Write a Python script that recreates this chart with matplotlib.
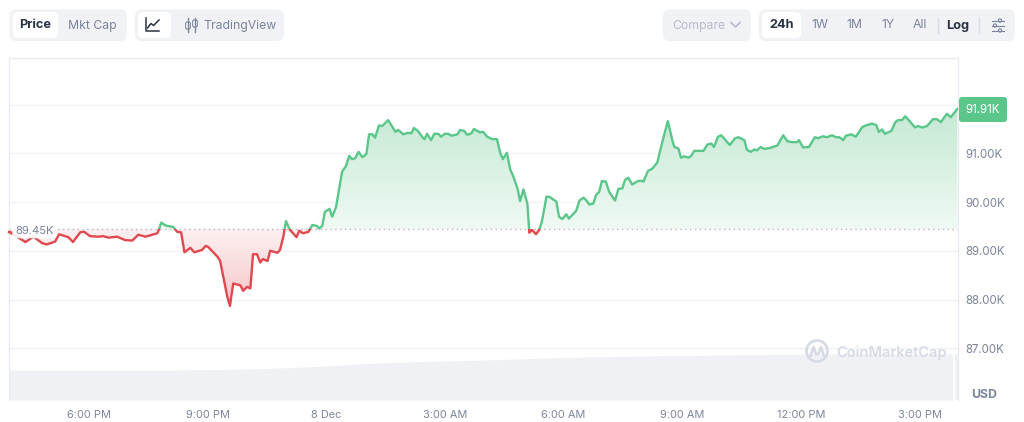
import numpy as np
import matplotlib
matplotlib.use("Agg")
import matplotlib.pyplot as plt
from matplotlib.patches import FancyBboxPatch, Rectangle, Polygon, Circle
from matplotlib.colors import LinearSegmentedColormap

plt.rcParams['font.family'] = ['Inter', 'DejaVu Sans']

# minutes relative to midnight, 8 Dec
minutes = [-481,-456,-444,-431,-424,-411,-405,-391,-384,-373,-367,-358,-346,-338,-330,-317,-305,-294,-285,-274,-256,-255,-250,-244,-232,-226,-220,-215,-206,-200,-188,-183,-179,-165,-161,-155,-150,-146,-141,-130,-126,-120,-115,-111,-105,-100,-96,-89,-85,-74,-70,-65,-61,-55,-45,-41,-35,-27,-21,-14,-11,-6,-2,
 5,9,15,24,30,35,39,44,49,55,61,65,70,74,80,85,94,105,109,117,124,129,133,139,146,149,153,159,164,170,174,180,185,190,199,203,209,214,220,224,233,238,244,252,259,264,268,274,279,283,290,294,299,305,308,312,318,323,327,334,338,349,353,358,364,368,379,384,390,394,399,405,409,414,418,424,429,438,443,449,453,458,464,471,476,481,488,494,502,509,518,525,528,534,538,543,549,553,558,572,578,584,588,594,599,612,620,625,634,638,644,649,653,659,664,673,684,693,699,706,714,717,723,732,741,746,753,759,767,773,778,784,788,796,803,813,820,828,834,838,843,847,857,863,867,873,878,893,897,904,911,920,926,932,941,947,957]
prices = [89.39,89.18,89.29,89.16,89.13,89.19,89.34,89.28,89.18,89.38,89.39,89.30,89.29,89.30,89.27,89.29,89.22,89.21,89.33,89.29,89.36,89.39,89.58,89.52,89.49,89.39,89.38,88.97,89.06,88.97,89.02,89.10,89.08,88.88,88.80,88.40,88.06,87.87,88.33,88.29,88.18,88.26,88.23,88.93,88.93,88.76,88.83,88.79,89.00,88.96,89.02,89.29,89.61,89.43,89.28,89.41,89.36,89.39,89.53,89.51,89.46,89.51,89.80,
 89.86,89.70,89.90,90.62,90.74,90.95,90.88,90.90,91.03,90.92,90.99,91.39,91.39,91.32,91.57,91.56,91.68,91.44,91.48,91.39,91.42,91.41,91.52,91.46,91.33,91.29,91.40,91.27,91.40,91.40,91.34,91.40,91.40,91.36,91.39,91.48,91.46,91.38,91.41,91.50,91.43,91.44,91.34,91.29,91.29,91.00,90.88,91.01,90.67,90.55,90.28,90.02,90.26,89.97,89.37,89.43,89.34,89.43,89.60,90.11,90.11,90.01,89.70,89.65,89.75,89.66,89.82,90.03,90.09,90.04,89.95,89.97,90.14,90.21,90.43,90.42,90.21,90.03,90.27,90.28,90.45,90.50,90.36,90.42,90.44,90.42,90.64,90.68,90.81,91.20,91.66,91.26,91.13,91.10,90.91,90.94,90.91,90.94,91.05,91.05,91.18,91.20,91.13,91.34,91.37,91.17,91.31,91.33,91.27,91.07,91.03,91.08,91.06,91.13,91.09,91.11,91.16,91.37,91.25,91.23,91.23,91.27,91.12,91.13,91.33,91.31,91.35,91.33,91.37,91.33,91.33,91.27,91.36,91.39,91.34,91.54,91.58,91.61,91.58,91.44,91.49,91.40,91.46,91.64,91.68,91.68,91.76,91.53,91.56,91.53,91.56,91.70,91.70,91.64,91.81,91.74,91.91]
baseline = 89.45
last_price = "91.91K"
base_label = "89.45K"

vol_minutes = [-481,-360,-240,-150,-100,-50,0,60,120,240,360,480,600,720,840,950]
vol_values = [60,60,60,61,63,65,68,73,76,80,85,88,90,92,92,92]
vol_last_minutes = [953,958]
vol_last_values = [92,92]

xticks = [-360,-180,0,180,360,540,720,900]
xticklabels = ["6:00 PM","9:00 PM","8 Dec","3:00 AM","6:00 AM","9:00 AM","12:00 PM","3:00 PM"]
yticks = [87,88,89,90,91,92]
yticklabels = ["87.00K","88.00K","89.00K","90.00K","91.00K",""]

GREEN = "#5bc68a"
RED = "#e0484f"
GRID = "#f1f2f5"
BORDER = "#e9ebf0"

W, H = 1024, 422
fig = plt.figure(figsize=(W/100, H/100), dpi=100, facecolor="white")
L, R, T, B = 9, 958, 58, 400
rect = [L/W, (H-B)/H, (R-L)/W, (B-T)/H]

# volume layer
axv = fig.add_axes(rect, zorder=1)
axv.set_xlim(-481, 958); axv.set_ylim(0, 684); axv.axis("off")
axv.fill_between(vol_minutes, vol_values, color="#eff1f5", lw=0)
axv.fill_between(vol_last_minutes, vol_last_values, color="#eff1f5", lw=0)

# price layer
ax = fig.add_axes(rect, zorder=2)
ax.patch.set_alpha(0)
ax.set_xlim(-481, 958); ax.set_ylim(85.94, 92.955)
ax.set_xticks(xticks, xticklabels)
ax.yaxis.tick_right()
ax.set_yticks(yticks, yticklabels)
ax.tick_params(axis="x", length=0, pad=7, labelsize=7.9, labelcolor="#7d849b")
ax.tick_params(axis="y", length=0, pad=5, labelsize=8.3, labelcolor="#7d849b")
ax.grid(axis="y", color=GRID, lw=1)
ax.set_axisbelow(True)
for s in ("left", "right", "top"):
    ax.spines[s].set_color(BORDER); ax.spines[s].set_linewidth(1)
ax.spines["bottom"].set_visible(False)

xmin, xmax = ax.get_xlim(); ymin, ymax = ax.get_ylim()
area = Polygon(list(zip(minutes, prices)) + [(minutes[-1], baseline), (minutes[0], baseline)],
               closed=True, transform=ax.transData, fc="none", ec="none")
ax.add_patch(area)

gcm = LinearSegmentedColormap.from_list("g", ["#f0faf4", "#c4e9d3"])
rcm = LinearSegmentedColormap.from_list("r", ["#fdf1f1", "#f5c6c8"])
top = max(prices); bot = min(prices)
grad = np.linspace(0, 1, 256).reshape(-1, 1)
im1 = ax.imshow(grad, origin="lower", extent=[minutes[0], minutes[-1], baseline, top], cmap=gcm,
                aspect="auto", zorder=1.5)
im2 = ax.imshow(grad, origin="upper", extent=[minutes[0], minutes[-1], bot, baseline], cmap=rcm,
                aspect="auto", zorder=1.5)
im1.set_clip_path(area); im2.set_clip_path(area)
ax.set_xlim(xmin, xmax); ax.set_ylim(ymin, ymax)

ax.axhline(baseline, color="#b4b8c4", lw=1, ls=(0, (1, 2.5)), zorder=2)

l1, = ax.plot(minutes, prices, color=GREEN, lw=1.7, zorder=3, solid_joinstyle="round")
l2, = ax.plot(minutes, prices, color=RED, lw=1.7, zorder=3, solid_joinstyle="round")
l1.set_clip_path(Rectangle((xmin, baseline), xmax-xmin, ymax-baseline, transform=ax.transData))
l2.set_clip_path(Rectangle((xmin, ymin), xmax-xmin, baseline-ymin, transform=ax.transData))

# overlay in pixel space for the interface furniture
ui = fig.add_axes([0, 0, 1, 1], zorder=3)
ui.set_xlim(0, W); ui.set_ylim(H, 0); ui.axis("off"); ui.patch.set_alpha(0)

def box(x0, y0, x1, y1, fc, r=7, ec="none"):
    ui.add_patch(FancyBboxPatch((x0+r, y0+r), x1-x0-2*r, y1-y0-2*r,
                 boxstyle=f"round,pad={r},rounding_size={r}", fc=fc, ec=ec, lw=0.8))

def label(x, y, s, color="#7c849c", weight="normal", size=8.8, ha="center"):
    ui.text(x, y, s, color=color, fontweight=weight, fontsize=size, ha=ha, va="center")

PANEL = "#f0f2f6"
box(9.5, 9.5, 127, 41, PANEL)
box(13, 12, 58, 38, "white", r=5)
label(35.5, 25.5, "Price", color="#2b3244", weight="bold", size=9.2)
label(92, 25.5, "Mkt Cap")
box(135, 9.5, 284, 41, PANEL)
box(138, 12, 171, 38, "white", r=5)
ui.plot([146, 146, 159], [18, 30.5, 30.5], color="#2b3244", lw=1.1)
ui.plot([147.5, 151, 153.5, 159], [28, 23.5, 25.5, 20], color="#2b3244", lw=1.1)
for cx, y0, y1, b0, b1 in [(188, 18, 32, 22, 29), (195, 18, 32, 20, 27)]:
    ui.plot([cx, cx], [y0, y1], color="#7c849c", lw=1)
    box(cx-2.3, b0, cx+2.3, b1, "white", r=1.5, ec="#7c849c")
label(203, 25.5, "TradingView", ha="left")

box(663, 9.5, 751, 41, PANEL)
label(672, 25.5, "Compare", color="#b6bccd", ha="left")
ui.plot([731, 735.5, 740], [22.5, 27, 22.5], color="#b6bccd", lw=1.2)

box(759, 9.5, 1015, 41, PANEL)
box(762, 12, 801, 38, "white", r=5)
label(781.5, 25.5, "24h", color="#2b3244", weight="bold", size=9.2)
label(819.5, 25.5, "1W"); label(854.5, 25.5, "1M"); label(888, 25.5, "1Y"); label(920, 25.5, "All")
ui.plot([937.5, 937.5], [18, 33], color="#d9dce5", lw=1)
label(958, 25.5, "Log", color="#2b3244", weight="bold", size=9.2)
ui.plot([979, 979], [18, 33], color="#d9dce5", lw=1)
for yy, kx in [(20.5, 1000), (25.5, 995), (30.5, 1000)]:
    ui.plot([992, 1004], [yy, yy], color="#7c849c", lw=0.8)
    ui.add_patch(Circle((kx, yy), 1.6, fc=PANEL, ec="#7c849c", lw=0.8))

# reference price label with its translucent backing
ui.text(15, 230.5, base_label, color="#7c849c", fontsize=8.1, ha="left", va="center",
        bbox=dict(boxstyle="round,pad=0.25", fc="white", ec="none", alpha=0.88))
ui.plot([9, 11.5], [232, 232.5], color=RED, lw=1.7)

# current price badge
box(959, 97, 1007, 122, GREEN, r=3)
label(983, 110, last_price, color="white", size=8.3)
label(984, 395.5, "USD", color="#7c849c", weight="bold", size=8.9)

# watermark
WM = "#d6dae5"
ui.add_patch(Circle((817, 351), 10.5, fc="none", ec=WM, lw=1.9))
ui.plot([810.5, 813.5, 816, 818.5, 821, 824], [356, 347, 354, 354, 347, 356], color=WM, lw=1.9,
        solid_joinstyle="round", solid_capstyle="round")
ui.text(836, 352.5, "CoinMarketCap", color=WM, fontsize=10.5, fontweight="semibold", ha="left", va="center")

fig.savefig("out.png", dpi=100)
